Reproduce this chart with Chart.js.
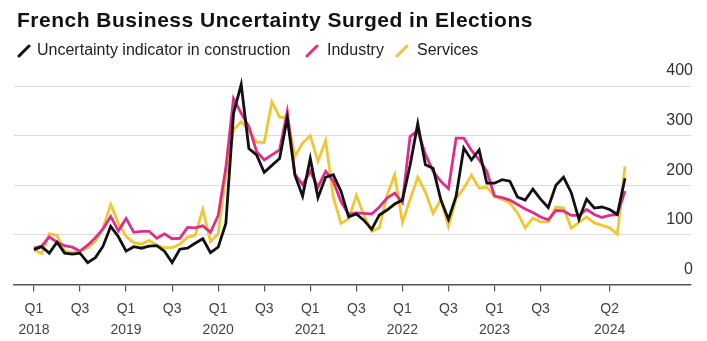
<!DOCTYPE html>
<html>
<head>
<meta charset="utf-8">
<script src="https://cdn.jsdelivr.net/npm/chart.js@4.4.1/dist/chart.umd.min.js"></script>
<style>
    body { margin: 0; background: #fff; }
    #wrap { position: relative; width: 707px; height: 341px; overflow: hidden; }
    #chart { position: absolute; left: 0; top: 0; }
    .title { position: absolute; left: 17px; top: 8px; font: bold 21px "Liberation Sans", Arial, sans-serif; letter-spacing: 0.5px; color: #111; white-space: nowrap; z-index: 2; }
    .legend { position: absolute; top: 41px; left: 0; font: 16px "Liberation Sans", Arial, sans-serif; color: #222; white-space: nowrap; z-index: 2; }
    .legend span { position: absolute; top: 0; }
    .legend svg { position: absolute; top: 3px; }
</style>
</head>
<body>
<div id="wrap">
    <div class="title">French Business Uncertainty Surged in Elections</div>
    <div class="legend" id="legend"></div>
    <canvas id="chart" width="707" height="349"></canvas>
</div>
<script>
// Monthly values, Jan 2018 .. Jun 2024
const construction = [70, 76, 63, 85, 63, 61, 63, 44, 54, 77, 117, 96,
    67, 76, 73, 77, 78, 67, 44, 71, 73, 83, 92, 64,
    75, 123, 345, 403, 274, 261, 226, 240, 254, 335, 220, 178,
    254, 175, 216, 221, 188, 136, 142, 129, 111, 140, 150, 162,
    170, 240, 324, 241, 234, 171, 131, 178, 275, 251, 271, 204,
    204, 211, 208, 176, 170, 192, 172, 155, 200, 216, 185, 131,
    172, 154, 156, 151, 141, 214];
const industry = [73, 77, 96, 85, 78, 75, 67, 79, 94, 112, 137, 108,
    133, 105, 107, 107, 93, 102, 92, 93, 115, 114, 118, 105,
    139, 235, 375, 345, 318, 268, 251, 261, 271, 348, 222, 201,
    228, 196, 228, 208, 167, 141, 144, 143, 142, 156, 174, 184,
    165, 298, 310, 262, 228, 208, 193, 295, 295, 270, 251, 228,
    178, 175, 170, 161, 152, 145, 136, 130, 149, 148, 139, 139,
    151, 141, 135, 139, 141, 188];
const services = [70, 62, 102, 99, 67, 64, 67, 74, 87, 114, 161, 124,
    97, 84, 81, 89, 79, 74, 74, 81, 95, 99, 151, 86,
    102, 221, 312, 328, 310, 287, 286, 368, 337, 336, 258, 285,
    300, 248, 290, 176, 123, 132, 180, 139, 107, 114, 180, 221,
    125, 171, 216, 186, 143, 171, 117, 173, 194, 220, 194, 196,
    178, 171, 164, 144, 114, 134, 126, 126, 156, 154, 113, 125,
    136, 124, 119, 114, 101, 238];

const tickValues = [0, 6, 12, 18, 24, 30, 36, 42, 48, 54, 60, 66, 75];
const tickLabels = [['Q1', '2018'], 'Q3', ['Q1', '2019'], 'Q3', ['Q1', '2020'], 'Q3',
    ['Q1', '2021'], 'Q3', ['Q1', '2022'], 'Q3', ['Q1', '2023'], 'Q3', ['Q2', '2024']];
const yTicks = [0, 100, 200, 300, 400];

const seriesNames = ['Uncertainty indicator in construction', 'Industry', 'Services'];
const seriesColors = ['#111111', '#de2e8c', '#f2c532'];

// Legend with slanted line markers
const legendPos = [[17, 37], [305, 327], [395, 417]];
const legend = document.getElementById('legend');
seriesNames.forEach((name, i) => {
    legend.innerHTML += `<svg style="left:${legendPos[i][0]}px" width="14" height="14">
        <line x1="2" y1="12" x2="12" y2="2" stroke="${seriesColors[i]}" stroke-width="3" stroke-linecap="round"/></svg>
        <span style="left:${legendPos[i][1]}px">${name}</span>`;
});

function toPoints(arr) {
    return arr.map((v, i) => ({ x: i, y: v }));
}

const ctx = document.getElementById('chart').getContext('2d');
new Chart(ctx, {
    type: 'line',
    data: {
        datasets: [construction, industry, services].map((arr, i) => ({
            label: seriesNames[i],
            data: toPoints(arr),
            borderColor: seriesColors[i],
            borderWidth: 2.8,
            pointRadius: 0,
            tension: 0,
            clip: false
        }))
    },
    options: {
        responsive: false,
        animation: false,
        layout: { padding: { top: 86, left: 14, right: 12, bottom: 1 } },
        plugins: { legend: { display: false }, tooltip: { enabled: false } },
        scales: {
            x: {
                type: 'linear',
                min: -2.6,
                max: 85.6,
                afterBuildTicks: scale => { scale.ticks = tickValues.map(v => ({ value: v })); },
                ticks: {
                    autoSkip: false,
                    maxRotation: 0,
                    padding: 8,
                    color: '#444',
                    font: { family: 'Liberation Sans', size: 14, lineHeight: 1.45 },
                    callback: (v) => tickLabels[tickValues.indexOf(v)]
                },
                grid: { drawOnChartArea: false, drawTicks: true, tickLength: 7, color: '#555', lineWidth: 1.2 },
                border: { display: true, color: '#555', width: 1.5 }
            },
            y: {
                position: 'right',
                min: 0,
                max: 400,
                afterBuildTicks: scale => { scale.ticks = yTicks.map(v => ({ value: v })); },
                ticks: {
                    mirror: true,
                    padding: 2,
                    labelOffset: -15,
                    color: '#333',
                    font: { family: 'Liberation Sans', size: 16 }
                },
                grid: { color: '#dcdcdc', lineWidth: 1, drawTicks: false },
                border: { display: false }
            }
        }
    }
});
</script>
</body>
</html>
